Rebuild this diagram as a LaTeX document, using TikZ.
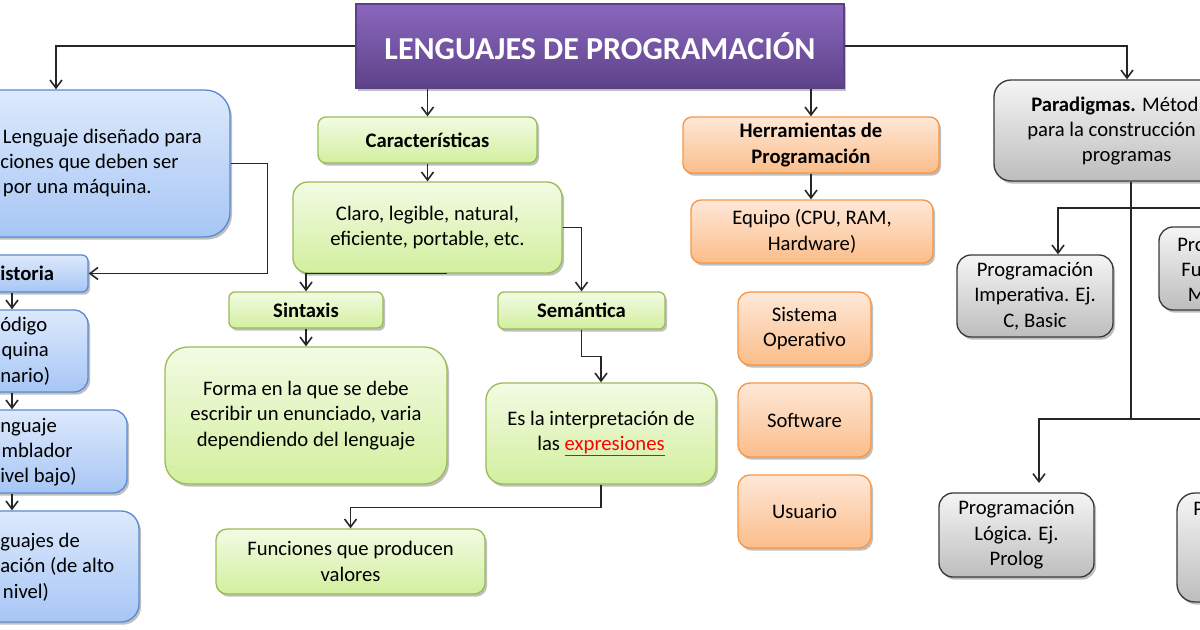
\documentclass[tikz,border=0pt]{standalone}
\usepackage{fontspec}
\setmainfont{Carlito}
\usetikzlibrary{arrows.meta,shadows}
\definecolor{titarriba}{HTML}{8A67BE}
\definecolor{titabajo}{HTML}{5E4289}
\definecolor{titborde}{HTML}{5A4085}
\definecolor{azularriba}{HTML}{DDE9FC}
\definecolor{azulabajo}{HTML}{A7C6F5}
\definecolor{azulborde}{HTML}{5A8AD0}
\definecolor{verdearriba}{HTML}{F3FBE4}
\definecolor{verdeabajo}{HTML}{D2EF9E}
\definecolor{verdeborde}{HTML}{9BBB59}
\definecolor{naranjaarriba}{HTML}{FEE8D8}
\definecolor{naranjaabajo}{HTML}{FBBD8A}
\definecolor{naranjaborde}{HTML}{F79646}
\definecolor{grisarriba}{HTML}{F5F5F5}
\definecolor{grisabajo}{HTML}{BDBDBD}
\definecolor{grisborde}{HTML}{3A3A3A}
\definecolor{trazo}{HTML}{262626}
\newcommand\letra{\fontsize{15.5pt}{19pt}\selectfont}

\begin{document}
\begin{tikzpicture}[x=0.75pt,y=-0.75pt]
\tikzset{caja/.style = {draw, line width=1pt, align=center, inner sep=0pt, font=\letra,
    drop shadow={shadow xshift=1.5pt, shadow yshift=-2pt, opacity=.25, fill=black}},
  tam/.style 2 args = {minimum width={#1*0.75pt}, minimum height={#2*0.75pt}},
  radio/.style = {rounded corners={#1*0.75pt}},
  titulo/.style = {caja, draw=titborde, top color=titarriba, bottom color=titabajo,
    text=white, font=\fontsize{24pt}{28pt}\selectfont\bfseries},
  azul/.style = {caja, draw=azulborde, top color=azularriba, bottom color=azulabajo},
  verde/.style = {caja, draw=verdeborde, top color=verdearriba, bottom color=verdeabajo},
  naranja/.style = {caja, draw=naranjaborde, top color=naranjaarriba, bottom color=naranjaabajo},
  gris/.style = {caja, draw=grisborde, top color=grisarriba, bottom color=grisabajo},
  texto/.style = {font=\letra, align=left, anchor=west, inner sep=0pt},
  linea/.style = {draw=trazo, line width=1.2pt},
  flecha/.style = {linea, -{Straight Barb[length=6pt,width=9pt]}}}
\useasboundingbox (0,0) rectangle (1200,630);
\clip (0,0) rectangle (1200,630);

\node[titulo, tam={488}{84}] (titulo) at (600,46) {LENGUAJES DE PROGRAMACIÓN};

\node[azul, tam={330}{147}, radio=25] (def) at (65,163.5) {};
\node[texto] (deftxt) at (0,163) {\hspace*{2pt}Lenguaje diseñado para\\ciones que deben ser\\\hspace*{2pt}por una máquina.};
\node[azul, tam={148}{37}, radio=6] (hist) at (14,273.5) {};
\node[texto, font=\letra\bfseries] (histtxt) at (0,273) {istoria};
\node[azul, tam={148}{82}, radio=14] (cod) at (14,351) {};
\node[texto] (codtxt) at (0,351) {ódigo\\\hspace*{1pt}quina\\nario)};
\node[azul, tam={187}{83}, radio=14] (ens) at (33.5,451.5) {};
\node[texto] (enstxt) at (0,452) {nguaje\\\hspace*{1pt}mblador\\ivel bajo)};
\node[azul, tam={199}{111}, radio=18] (alto) at (39.5,566.5) {};
\node[texto] (altotxt) at (0,567) {guajes de\\ación (de alto\\\hspace*{2pt}nivel)};

\node[verde, tam={219}{46}, radio=8, font=\letra\bfseries] (carac) at (427.5,140) {Características};
\node[verde, tam={269}{91}, radio=15] (claro) at (427.5,227.5) {Claro, legible, natural,\\eficiente, portable, etc.};
\node[verde, tam={154}{36}, radio=6, font=\letra\bfseries] (sint) at (306,310) {Sintaxis};
\node[verde, tam={282}{137}, radio=23] (forma) at (306,415.5) {Forma en la que se debe\\escribir un enunciado, varia\\dependiendo del lenguaje};
\node[verde, tam={167}{37}, radio=6, font=\letra\bfseries] (sem) at (581.5,310.5) {Semántica};
\node[verde, tam={230}{101}, radio=17] (interp) at (601,433.5) {Es la interpretación de\\las \textcolor{red}{\underline{expresiones}}};
\node[verde, tam={269}{65}, radio=11] (func) at (350.5,561.5) {Funciones que producen\\valores};

\node[naranja, tam={256}{56}, radio=9, font=\letra\bfseries] (herr) at (811,145) {Herramientas de\\Programación};
\node[naranja, tam={242}{63}, radio=10] (equipo) at (812,231.5) {Equipo (CPU, RAM,\\Hardware)};
\node[naranja, tam={133}{73}, radio=12] (so) at (804.5,328.5) {Sistema\\Operativo};
\node[naranja, tam={133}{74}, radio=12] (soft) at (804.5,420) {Software};
\node[naranja, tam={133}{73}, radio=12] (usu) at (804.5,511.5) {Usuario};

\node[gris, tam={266}{101}, radio=17] (parad) at (1127,130.5) {};
\node[texto] (paradtxt) at (1027,131) {\hspace*{3pt}\textbf{Paradigmas.} Métod\\para la construcción\\\hspace*{41pt}programas};
\node[gris, tam={156}{82}, radio=14] (imper) at (1035,296) {Programación\\Imperativa. Ej.\\C, Basic};
\node[gris, tam={161}{83}, radio=14] (funcional) at (1239.5,268.5) {};
\node[texto] (funtxt) at (1177,270) {Pro\\\hspace*{3pt}Fu\\\hspace*{8pt}M};
\node[gris, tam={155}{84}, radio=14] (logica) at (1016.5,535) {Programación\\Lógica. Ej.\\Prolog};
\node[gris, tam={163}{109}, radio=18] (otro) at (1258.5,547.5) {};
\node[texto] (otrotxt) at (1193,509) {P};

\draw[flecha] (titulo.west) -| (def.north -| 56,0);
\draw[flecha] (def.east) -- ++(37,0) |- (hist.east);
\draw[flecha] (hist.south -| 12,0) -- (cod.north -| 12,0);
\draw[flecha] (cod.south -| 12,0) -- (ens.north -| 12,0);
\draw[flecha] (ens.south -| 12,0) -- (alto.north -| 12,0);
\draw[flecha] (titulo.south -| carac.north) -- (carac.north);
\draw[flecha] (carac.south) -- (claro.north);
\draw[flecha] (claro.south -| 447,0) -| (sint.north);
\draw[flecha] (claro.east) -| (sem.north);
\draw[flecha] (sint.south) -- (forma.north);
\draw[flecha] (sem.south) -- ++(0,27) -| (interp.north);
\draw[flecha] (interp.south) -- ++(0,23) -| (func.north);
\draw[flecha] (titulo.south -| herr.north) -- (herr.north);
\draw[flecha] (herr.south) -- (herr.south |- equipo.north);
\draw[flecha] (titulo.east) -| (parad.north);
\coordinate (rama1) at (1131,208);
\coordinate (rama2) at (1131,419);
\draw[linea] (parad.south -| rama1) -- (rama2);
\draw[flecha] (rama1) -| (imper.north -| 1058,0);
\draw[flecha] (rama1) -| (funcional.north);
\draw[flecha, shorten >=7pt] (rama2) -| (logica.north -| 1039,0);
\draw[flecha] (rama2) -| (otro.north);
\end{tikzpicture}
\end{document}
